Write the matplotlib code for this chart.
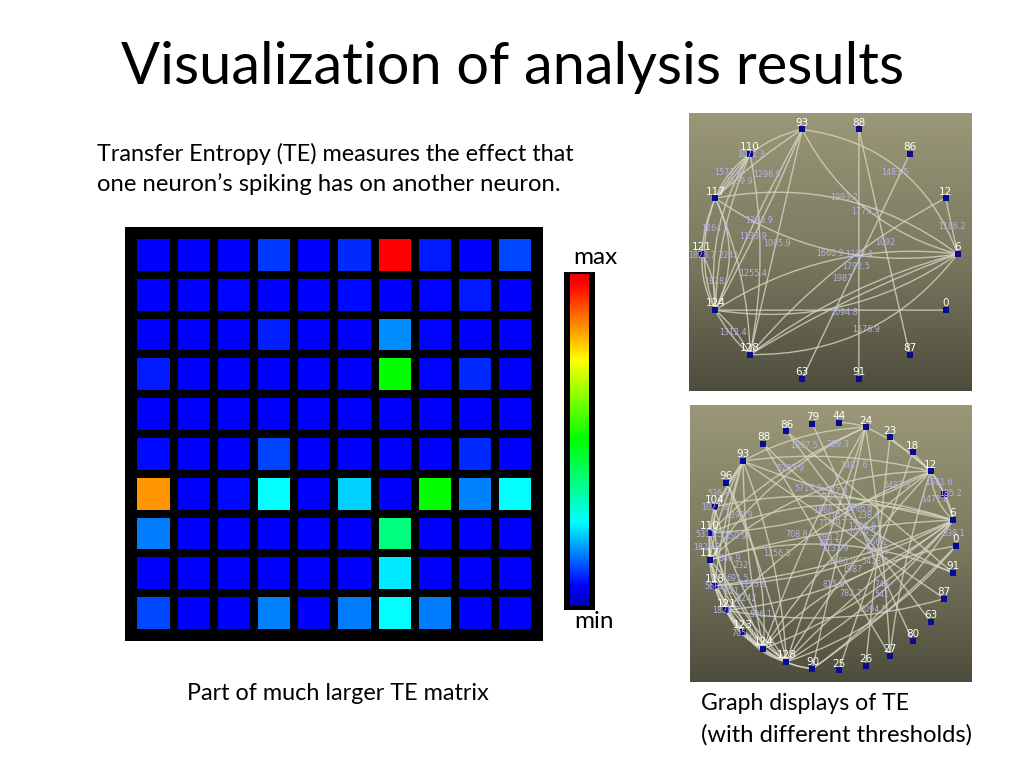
import numpy as np
import matplotlib
matplotlib.use('Agg')
import matplotlib.pyplot as plt
from matplotlib.colors import LinearSegmentedColormap
from matplotlib.patches import FancyArrowPatch

plt.rcParams['font.family'] = ['Lato', 'DejaVu Sans']

te_matrix = [
    [.06, .06, .06, .105, .06, .09, .97, .08, .06, .115],
    [.06, .06, .065, .06, .06, .07, .06, .065, .08, .06],
    [.06, .06, .06, .085, .06, .06, .165, .065, .06, .06],
    [.08, .06, .06, .06, .06, .06, .5, .065, .09, .06],
    [.06, .06, .06, .06, .06, .06, .06, .06, .06, .06],
    [.07, .06, .06, .11, .06, .06, .06, .06, .09, .06],
    [.835, .06, .07, .25, .06, .215, .06, .5, .16, .25],
    [.155, .06, .06, .06, .06, .06, .375, .06, .06, .06],
    [.06, .06, .06, .06, .06, .06, .235, .06, .06, .06],
    [.115, .06, .06, .16, .06, .155, .25, .155, .06, .06],
]

cmap_stops = [(0, '#0000b8'), (.06, '#0000ff'), (.25, '#00ffff'), (.5, '#00ff00'),
              (.74, '#ffff00'), (.97, '#ff0000'), (1, '#ee0000')]

nodes1 = {'93': (366, 74), '88': (536, 74), '110': (210, 148), '86': (688, 148),
          '117': (106, 280), '12': (796, 280), '121': (66, 447), '6': (832, 447),
          '124': (106, 615), '0': (796, 615), '128': (210, 748), '87': (688, 748),
          '63': (366, 821), '91': (536, 821)}

edges1 = [('93', '110', .12), ('93', '117', .05), ('93', '124', .03), ('93', '124', -.03),
          ('93', '128', 0), ('93', '6', -.3), ('93', '6', .22), ('88', '91', 0), ('88', '87', 0),
          ('86', '63', 0), ('12', '128', .1), ('12', '6', 0), ('117', '6', -.22), ('117', '6', .2),
          ('110', '117', .05), ('110', '117', -.05), ('110', '117', .15), ('110', '124', .18),
          ('110', '128', -.1), ('117', '121', .1), ('117', '124', .2), ('117', '124', -.25),
          ('117', '128', -.1), ('121', '124', .15), ('121', '124', -.15), ('110', '124', .1),
          ('124', '6', -.18), ('124', '0', 0), ('124', '6', .2), ('124', '128', .1),
          ('124', '128', -.1), ('128', '6', -.1), ('128', '6', -.05), ('128', '6', .25)]

labels1 = [('1072.3', 212, 150), ('1572.4', 143, 204), ('1639.9', 178, 230), ('1296.9', 261, 210),
           ('1483.5', 645, 203), ('1993.2', 491, 277), ('1779.5', 555, 320), ('1186.2', 815, 366),
           ('1264.5', 105, 371), ('1293.9', 236, 347), ('1133.9', 219, 394), ('1005.9', 290, 415),
           ('1092', 614, 414), ('1660.9', 450, 446), ('1328.4', 537, 449), ('1828.7', 66, 450),
           ('2242', 145, 451), ('1792.5', 528, 485), ('1255.4', 219, 504), ('1987', 486, 521),
           ('1828', 103, 528), ('2094.8', 491, 621), ('1312.4', 160, 681), ('1576.9', 559, 674)]

nodes2 = {'79': (397, 72), '44': (476, 68), '24': (556, 82), '23': (629, 112), '86': (319, 94),
          '88': (250, 131), '18': (697, 157), '93': (189, 183), '12': (751, 214), '96': (139, 248),
          '104': (104, 320), '6': (818, 360), '110': (89, 398), '0': (826, 438), '117': (89, 479),
          '91': (818, 518), '118': (104, 556), '87': (792, 595), '121': (139, 630), '63': (751, 664),
          '123': (189, 694), '80': (697, 721), '124': (250, 745), '27': (629, 766), '128': (319, 784),
          '26': (556, 797), '90': (397, 805), '25': (476, 810), '': (792, 282)}

edges2 = [('93', '24', -.12), ('93', '12', -.1), ('93', '6', .05), ('93', '128', -.08),
          ('93', '124', .05), ('93', '110', .1), ('93', '117', .08), ('93', '104', 0),
          ('93', '118', .06), ('93', '87', 0), ('93', '121', .1), ('86', '63', 0), ('86', '91', 0),
          ('79', '80', 0), ('88', '27', 0), ('44', '24', -.1), ('24', '12', -.1), ('24', '128', 0),
          ('24', '124', .05), ('24', '27', -.03), ('24', '90', 0), ('24', '117', .15), ('24', '110', .1),
          ('23', '26', 0), ('23', '12', 0), ('18', '25', 0), ('18', '12', 0), ('12', '128', .05),
          ('12', '124', .1), ('12', '6', -.1), ('12', '', -.1), ('12', '6', .2), ('12', '117', .2),
          ('12', '27', .05), ('12', '121', .12), ('12', '110', -.12), ('6', '110', .18), ('6', '117', .06),
          ('6', '104', .14), ('6', '118', -.08), ('6', '124', -.12), ('6', '128', -.08), ('6', '128', .05),
          ('6', '121', -.14), ('6', '90', -.1), ('6', '', .1), ('0', '128', -.15), ('0', '124', .18),
          ('0', '90', -.05), ('110', '123', .2), ('110', '124', .25), ('110', '128', .15), ('104', '128', .1),
          ('104', '124', .2), ('117', '123', .2), ('117', '128', .15), ('117', '124', -.1), ('117', '91', -.18),
          ('118', '124', .18), ('118', '128', .1), ('118', '6', .12), ('121', '124', .2), ('121', '128', .15),
          ('123', '128', .2), ('123', '124', .15), ('123', '90', .2), ('124', '128', .1), ('128', '90', .1),
          ('96', '124', -.15), ('96', '128', -.05), ('104', '117', .1), ('88', '91', .1), ('121', '87', .12)]

labels2 = [('536.8', 115, 280), ('185.2', 812, 281), ('1581.6', 775, 246), ('1471.8', 765, 298),
           ('1022.8', 104, 321), ('1399.9', 178, 346), ('1897.5', 372, 136), ('289.3', 472, 133),
           ('5707.9', 330, 204), ('1487.6', 522, 197), ('6483.9', 650, 255), ('5717.8', 386, 266),
           ('1537.9', 462, 274), ('712.9', 450, 293), ('1666.2', 440, 332), ('1296.8', 535, 325),
           ('1193.5', 480, 352), ('719.9', 450, 370), ('238.6', 565, 345), ('1729.8', 545, 379),
           ('1979.5', 545, 400), ('538.1', 820, 400), ('708.8', 351, 404), ('780.2', 447, 411),
           ('863.5', 450, 430), ('1131.9', 464, 446), ('566.2', 590, 426), ('928.5', 593, 455),
           ('5311.5', 88, 402), ('850.9', 166, 408), ('1828.8', 82, 441), ('1256.5', 292, 460),
           ('1660.9', 486, 483), ('5418.5', 585, 485), ('846.9', 150, 476), ('232', 182, 497),
           ('1987', 516, 509), ('691.5', 172, 535), ('1133.9', 220, 552), ('5683', 104, 559),
           ('748', 605, 554), ('815.9', 462, 553), ('782.7', 512, 580), ('541', 605, 583),
           ('821', 155, 575), ('2242', 198, 595), ('2094.8', 578, 627), ('1828.7', 138, 632),
           ('596.1', 243, 644), ('705.7', 187, 699)]

fig = plt.figure(figsize=(10.24, 7.68), dpi=100)
W, H = 1024, 768


def add_px_axes(x0, y0, x1, y1):
    return fig.add_axes([x0 / W, 1 - y1 / H, (x1 - x0) / W, (y1 - y0) / H])


def draw_graph(box, lims, nodes, edges, labels):
    ax = add_px_axes(*box)
    ax.imshow(np.linspace(0, 1, 256).reshape(-1, 1), cmap=graph_cmap, aspect='auto',
              extent=[lims[0], lims[1], lims[2], lims[3]], zorder=0)
    ax.set_xlim(lims[0], lims[1])
    ax.set_ylim(lims[2], lims[3])
    ax.axis('off')
    for a, b, rad in edges:
        ax.add_patch(FancyArrowPatch(nodes[a], nodes[b], arrowstyle='-', shrinkA=0, shrinkB=0,
                                     connectionstyle=f'arc3,rad={rad}', color='#d6d6c4',
                                     lw=1.0, alpha=.8, zorder=1))
    xs = [p[0] for p in nodes.values()]
    ys = [p[1] for p in nodes.values()]
    ax.scatter(xs, ys, marker='s', s=20, color='#0a0a96', linewidths=0, zorder=2)
    for name, (x, y) in nodes.items():
        ax.text(x, y - 20, name, color='white', fontsize=7.5, ha='center', va='center',
                family='DejaVu Sans', zorder=4)
    for text, x, y in labels:
        ax.text(x, y, text, color='#b4b4e6', fontsize=5.8, ha='center', va='center',
                family='DejaVu Sans', zorder=3)


graph_cmap = LinearSegmentedColormap.from_list('panel', ['#9a9878', '#7c7a60', '#4e4d3d'])
te_cmap = LinearSegmentedColormap.from_list('te', cmap_stops)

# matrix
ax = add_px_axes(125, 227, 543, 641)
ax.pcolormesh(np.array(te_matrix), cmap=te_cmap, vmin=0, vmax=1, edgecolors='black', linewidth=5.6)
ax.set_xlim(-.21, 10.19)
ax.set_ylim(10.2, -.2)
ax.set_facecolor('black')
ax.set_xticks([])
ax.set_yticks([])
for s in ax.spines.values():
    s.set_visible(False)

# colour bar
cb = add_px_axes(564, 272, 595, 610)
cb.set_facecolor('black')
cb.set_xticks([])
cb.set_yticks([])
for s in cb.spines.values():
    s.set_visible(False)
cb_in = add_px_axes(570, 274, 589, 606)
cb_in.imshow(np.linspace(1, 0, 256).reshape(-1, 1), cmap=te_cmap, aspect='auto', vmin=0, vmax=1)
cb_in.axis('off')

draw_graph((689, 113, 972, 391), (27, 875, 857, 25), nodes1, edges1, labels1)
draw_graph((690, 405, 972, 682), (30, 875, 845, 15), nodes2, edges2, labels2)

# slide text, positions in pixels
fig.text(512.5 / W, 1 - 68 / H, 'Visualization of analysis results', fontsize=41.6, ha='center', va='center')
fig.text(97 / W, 1 - 153.5 / H, 'Transfer Entropy (TE) measures the effect that', fontsize=16.8, va='center')
fig.text(97 / W, 1 - 184.5 / H, 'one neuron\u2019s spiking has on another neuron.', fontsize=17.2, va='center')
fig.text(595.5 / W, 1 - 257.5 / H, 'max', fontsize=17.5, ha='center', va='center')
fig.text(593.5 / W, 1 - 621.5 / H, 'min', fontsize=17.5, ha='center', va='center')
fig.text(338 / W, 1 - 693 / H, 'Part of much larger TE matrix', fontsize=16.8, ha='center', va='center')
fig.text(701 / W, 1 - 703.5 / H, 'Graph displays of TE', fontsize=16.6, va='center')
fig.text(701 / W, 1 - 734.5 / H, '(with different thresholds)', fontsize=17.1, va='center')

fig.savefig('out.png', dpi=100)
